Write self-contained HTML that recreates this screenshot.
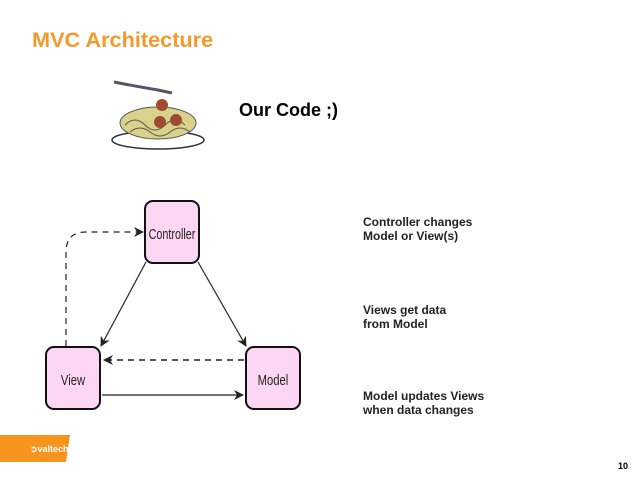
<!DOCTYPE html>
<html><head><style>
body{margin:0;width:638px;height:478px;background:#fff;position:relative;overflow:hidden;font-family:"Liberation Sans",sans-serif}
.t{position:absolute;white-space:nowrap}
</style></head><body>
<div class="t" style="left:32px;top:27px;font-size:21.7px;font-weight:bold;color:#f39a2c">MVC Architecture</div>
<div class="t" style="left:239px;top:100px;font-size:18px;font-weight:bold;color:#000">Our Code ;)</div>
<svg style="position:absolute;left:0;top:0" width="638" height="478">
<defs><marker id="a" markerWidth="10" markerHeight="10" refX="9" refY="5" orient="auto" markerUnits="userSpaceOnUse"><path d="M0,0 L10,5 L0,10 L3,5z" fill="#222"/></marker></defs>
<ellipse cx="158" cy="140" rx="46" ry="9" fill="#fff" stroke="#333" stroke-width="1.5"/>
<ellipse cx="158" cy="123" rx="38" ry="16" fill="#d9d28a" stroke="#555"/>
<path d="M125,125 q10,-10 20,0 q10,10 20,0 q10,-10 20,0 M130,132 q10,-8 20,0 q10,8 20,0 q10,-8 20,0" stroke="#555" fill="none"/>
<circle cx="162" cy="105" r="6" fill="#a04a30"/><circle cx="160" cy="122" r="6" fill="#a04a30"/><circle cx="176" cy="120" r="6" fill="#a04a30"/>
<path d="M114,82 q20,4 44,8 l14,3" stroke="#556" stroke-width="3" fill="none"/>
<path d="M66,346 V252 Q66,232 86,232 H143" stroke="#222" stroke-width="1.2" stroke-dasharray="6,5" fill="none" marker-end="url(#a)"/>
<line x1="146" y1="262" x2="101" y2="346" stroke="#222" stroke-width="1.2" marker-end="url(#a)"/>
<line x1="198" y1="262" x2="246" y2="346" stroke="#222" stroke-width="1.2" marker-end="url(#a)"/>
<line x1="244" y1="360" x2="104" y2="360" stroke="#222" stroke-width="1.5" stroke-dasharray="6,5" marker-end="url(#a)"/>
<line x1="102" y1="395" x2="243" y2="395" stroke="#222" stroke-width="1.2" marker-end="url(#a)"/>
<rect x="145" y="201" width="54" height="62" rx="8" fill="#fdd6f4" stroke="#111" stroke-width="2"/>
<rect x="46" y="347" width="54" height="62" rx="8" fill="#fdd6f4" stroke="#111" stroke-width="2"/>
<rect x="246" y="347" width="54" height="62" rx="8" fill="#fdd6f4" stroke="#111" stroke-width="2"/>
<g font-size="15" text-anchor="middle" fill="#222" font-family="Liberation Sans,sans-serif">
<text transform="translate(172,239) scale(0.72,1)">Controller</text>
<text transform="translate(73,385) scale(0.75,1)">View</text>
<text transform="translate(273,385) scale(0.75,1)">Model</text>
</g>
<path d="M0,435 H70 L66,462 H0z" fill="#f7941d"/>
<text x="30" y="452" font-size="9" fill="#fff" font-weight="bold">➲valtech</text>
</svg>
<div class="t" style="left:363px;top:215px;font-size:12px;font-weight:bold;color:#222;line-height:14px">Controller changes<br>Model or View(s)</div>
<div class="t" style="left:363px;top:303px;font-size:12px;font-weight:bold;color:#222;line-height:14px">Views get data<br>from Model</div>
<div class="t" style="left:363px;top:389px;font-size:12px;font-weight:bold;color:#222;line-height:14px">Model updates Views<br>when data changes</div>
<div class="t" style="left:618px;top:461px;font-size:9px;font-weight:bold;color:#000">10</div>
</body></html>
